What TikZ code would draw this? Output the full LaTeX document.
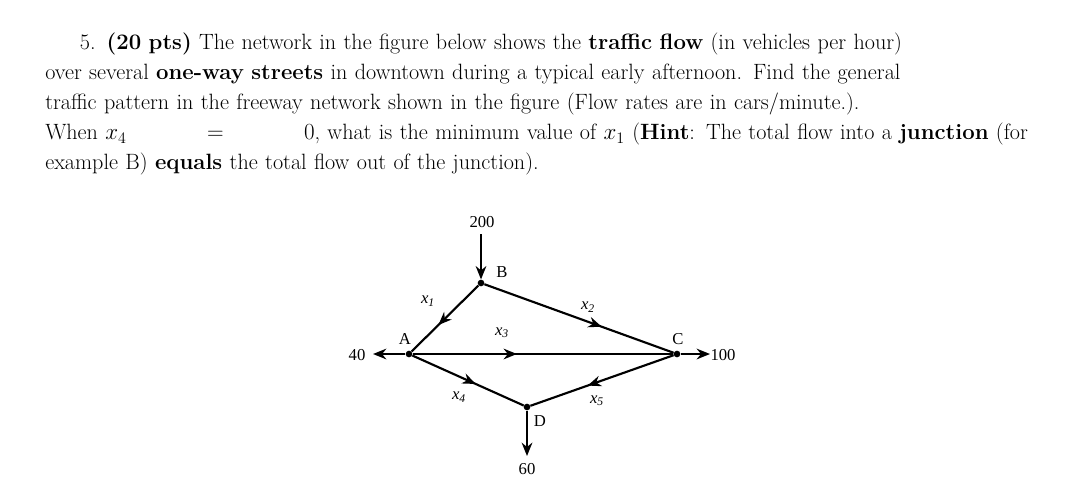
\documentclass[tikz,border=0pt]{standalone}
\usepackage{fontspec}
\newfontfamily\tms{Liberation Serif}
\usetikzlibrary{arrows.meta,decorations.markings}
\newcommand{\fullline}[1]{\makebox[737pt][s]{#1}}
\tikzset{
  tip/.style={-{Stealth[length=10pt,width=8pt]}},
  edge/.style={line width=1.6pt},
  mid/.style={postaction={decorate},decoration={markings,mark=at position #1 with {\arrow{Stealth[length=10pt,width=8pt]}}}},
  lab/.style={font=\tms\fontsize{12.5}{14}\selectfont,inner sep=0pt},
  var/.style={font=\tms\itshape\fontsize{12.5}{14}\selectfont,inner sep=0pt},
  junc/.style={circle,fill,inner sep=0pt,minimum size=5pt}
}
\begin{document}
\begin{tikzpicture}[x=0.75pt,y=-0.75pt]
\useasboundingbox (0,0) rectangle (1073,500);
\node[anchor=north west,inner sep=0pt,text width=737pt,align=left,font=\fontsize{16.6}{22.5}\selectfont] (txt) at (45,33)
{\fullline{\hspace*{26pt}5. \textbf{(20 pts)} The network in the figure below shows the \textbf{traffic flow} (in vehicles per hour)}\\
\fullline{over several \textbf{one-way streets} in downtown during a typical early afternoon. Find the general}\\
\fullline{traffic pattern in the freeway network shown in the figure (Flow rates are in cars/minute.).}\\
\fullline{When $x_4=0$, what is the minimum value of $x_1$ (\textbf{Hint}: The total flow into a \textbf{junction} (for}\\
example B) \textbf{equals} the total flow out of the junction).};
\node[junc] (B) at (481,283) {};
\node[junc] (A) at (409,354) {};
\node[junc] (C) at (677,354) {};
\node[junc] (D) at (527,407) {};
\node[lab] (n200) at (482,222) {200};
\node[lab] (n40) at (357,355) {40};
\node[lab] (n100) at (723,355) {100};
\node[lab] (n60) at (527,469) {60};
\coordinate (in200) at (481,234);
\coordinate (out40) at (373,354);
\coordinate (out100) at (710,354);
\coordinate (out60) at (527,456);
\draw[edge,tip] (in200) -- (B);
\draw[edge,tip] (A) -- (out40);
\draw[edge,tip] (C) -- (out100);
\draw[edge,tip] (D) -- (out60);
\draw[edge,mid=0.6] (B) -- (A);
\draw[edge,mid=0.62] (B) -- (C);
\draw[edge,mid=0.4] (A) -- (C);
\draw[edge,mid=0.57] (A) -- (D);
\draw[edge,mid=0.6] (C) -- (D);
\node[lab] (lA) at (405,339) {A};
\node[lab] (lB) at (502,272) {B};
\node[lab] (lC) at (678,339) {C};
\node[lab] (lD) at (540,421) {D};
\node[var] (x1) at (428,301) {x\textsubscript{1}};
\node[var] (x2) at (588,307) {x\textsubscript{2}};
\node[var] (x3) at (502,333) {x\textsubscript{3}};
\node[var] (x4) at (459,397) {x\textsubscript{4}};
\node[var] (x5) at (597,401) {x\textsubscript{5}};
\end{tikzpicture}
\end{document}
